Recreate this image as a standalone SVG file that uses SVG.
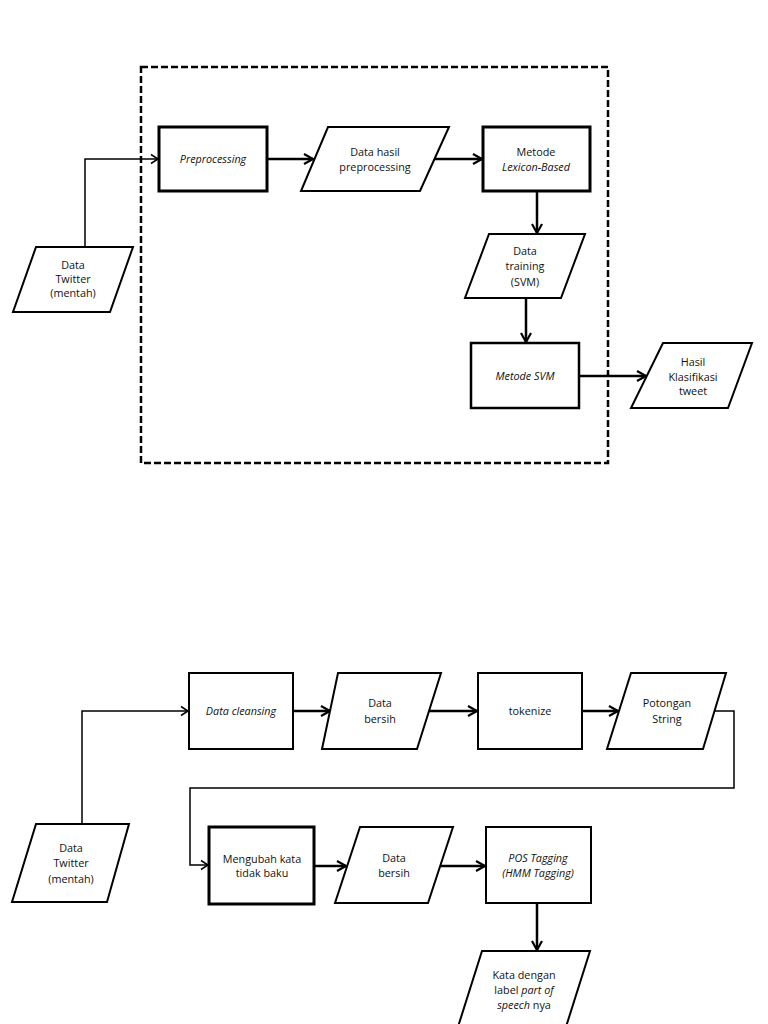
<svg xmlns="http://www.w3.org/2000/svg" width="768" height="1024" viewBox="0 0 768 1024">
<style>
  .bg { fill: #ffffff; }
  .node { fill: #ffffff; stroke: #000000; stroke-width: 2; stroke-linejoin: miter; }
  .thick { stroke-width: 3; }
  .dash { fill: none; stroke: #000000; stroke-width: 2.5; stroke-dasharray: 7 3; }
  .conn { fill: none; stroke: #000000; stroke-width: 2.5; }
  .thin { fill: none; stroke: #000000; stroke-width: 1.5; }
  text { font-family: "Open Sans", "Liberation Sans", sans-serif; font-size: 10.8px; fill: #111111; text-anchor: middle; }
  .it { font-style: italic; }
</style>
<defs>
  <marker id="ah" markerUnits="userSpaceOnUse" markerWidth="14" markerHeight="14" refX="10" refY="6" orient="auto">
    <path d="M1,1 L10,6 L1,11" fill="none" stroke="#000" stroke-width="2.2"/>
  </marker>
  <marker id="ahs" markerUnits="userSpaceOnUse" markerWidth="12" markerHeight="12" refX="8" refY="6" orient="auto">
    <path d="M1,1.5 L8,6 L1,10.5" fill="none" stroke="#000" stroke-width="1.5"/>
  </marker>
</defs>
<rect class="bg" x="0" y="0" width="768" height="1024"/>

<rect id="boundary" class="dash" x="141" y="67" width="467" height="396"/>

<g id="connectors">
  <path class="thin" d="M85,247 V159 H158" marker-end="url(#ahs)"/>
  <path class="conn" d="M267,159 H313" marker-end="url(#ah)"/>
  <path class="conn" d="M434,159 H482" marker-end="url(#ah)"/>
  <path class="conn" d="M537,191 V233" marker-end="url(#ah)"/>
  <path class="conn" d="M526,298 V342" marker-end="url(#ah)"/>
  <path class="conn" d="M579,376 H646" marker-end="url(#ah)"/>

  <path class="thin" d="M82,824 V711 H188" marker-end="url(#ahs)"/>
  <path class="conn" d="M293,711 H330" marker-end="url(#ah)"/>
  <path class="conn" d="M429,711 H477" marker-end="url(#ah)"/>
  <path class="conn" d="M582,711 H618" marker-end="url(#ah)"/>
  <path class="thin" d="M714,711 H734 V788 H190 V865 H208" marker-end="url(#ahs)"/>
  <path class="conn" d="M314,866 H346" marker-end="url(#ah)"/>
  <path class="conn" d="M440,866 H485" marker-end="url(#ah)"/>
  <path class="conn" d="M537,903 V950" marker-end="url(#ah)"/>
</g>

<g id="twitter-top">
  <polygon class="node" points="36,247 133,247 110,312 13,312"/>
  <text x="73" y="269">Data</text>
  <text x="73" y="283">Twitter</text>
  <text x="73" y="297">(mentah)</text>
</g>
<g id="preprocessing">
  <rect class="node thick" x="159" y="127" width="108" height="64"/>
  <text class="it" x="213" y="163">Preprocessing</text>
</g>
<g id="data-hasil">
  <polygon class="node" points="328,127 449,127 420,191 301,191"/>
  <text x="375" y="156">Data hasil</text>
  <text x="375" y="171">preprocessing</text>
</g>
<g id="lexicon">
  <rect class="node thick" x="483" y="127" width="107" height="64"/>
  <text x="536" y="156">Metode</text>
  <text class="it" x="536" y="171">Lexicon-Based</text>
</g>
<g id="training">
  <polygon class="node" points="489,234 585,234 561,298 465,298"/>
  <text x="525" y="255">Data</text>
  <text x="525" y="270">training</text>
  <text x="525" y="286">(SVM)</text>
</g>
<g id="svm">
  <rect class="node" x="471" y="343" width="108" height="65" style="stroke-width:2.5"/>
  <text class="it" x="525" y="380">Metode SVM</text>
</g>
<g id="hasil">
  <polygon class="node" points="663,343 752,343 728,408 631,408"/>
  <text x="693" y="366">Hasil</text>
  <text x="693" y="381">Klasifikasi</text>
  <text x="693" y="395">tweet</text>
</g>

<g id="twitter-bottom">
  <polygon class="node" points="36,824 129,824 107,902 12,902"/>
  <text x="71" y="852">Data</text>
  <text x="71" y="867">Twitter</text>
  <text x="71" y="883">(mentah)</text>
</g>
<g id="cleansing">
  <rect class="node" x="189" y="673" width="104" height="76"/>
  <text class="it" x="241" y="715">Data cleansing</text>
</g>
<g id="bersih1">
  <polygon class="node" points="338,673 441,673 417,749 322,749"/>
  <text x="380" y="707">Data</text>
  <text x="380" y="723">bersih</text>
</g>
<g id="tokenize">
  <rect class="node" x="478" y="673" width="104" height="76"/>
  <text x="530" y="715">tokenize</text>
</g>
<g id="potongan">
  <polygon class="node" points="631,673 726,673 703,749 607,749"/>
  <text x="667" y="707">Potongan</text>
  <text x="667" y="723">String</text>
</g>
<g id="mengubah">
  <rect class="node thick" x="209" y="827" width="105" height="77"/>
  <text x="262" y="863">Mengubah kata</text>
  <text x="262" y="877">tidak baku</text>
</g>
<g id="bersih2">
  <polygon class="node" points="360,827 453,827 428,903 335,903"/>
  <text x="394" y="862">Data</text>
  <text x="394" y="877">bersih</text>
</g>
<g id="pos">
  <rect class="node" x="486" y="827" width="105" height="76"/>
  <text class="it" x="538" y="862">POS Tagging</text>
  <text class="it" x="538" y="877">(HMM Tagging)</text>
</g>
<g id="kata">
  <polygon class="node" points="482,951 590,951 565,1030 457,1030"/>
  <text x="524" y="979">Kata dengan</text>
  <text x="524" y="994">label <tspan class="it">part of</tspan></text>
  <text x="524" y="1009"><tspan class="it">speech</tspan> nya</text>
</g>
</svg>
